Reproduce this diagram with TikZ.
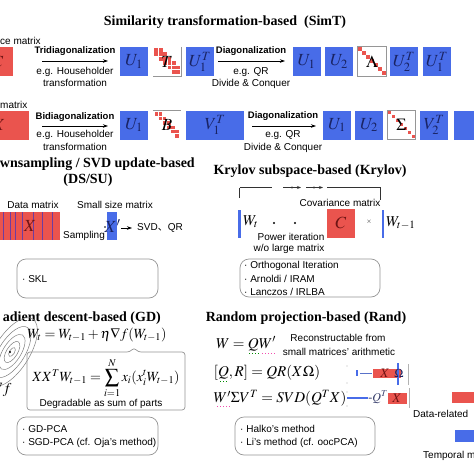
\documentclass[tikz,border=0pt]{standalone}
\usepackage{mathptmx}
\usepackage{fontspec}
\setmainfont{Liberation Serif}
\setsansfont{Liberation Sans}
\newfontfamily\cjkfont{Noto Sans CJK JP}
\usetikzlibrary{arrows.meta}
\definecolor{myred}{RGB}{234,84,78}
\definecolor{myblue}{RGB}{72,108,232}
\definecolor{navy}{RGB}{25,35,100}
\definecolor{maroon}{RGB}{110,20,20}
\definecolor{mypurple}{RGB}{110,60,160}
\definecolor{framegray}{RGB}{150,150,150}
\definecolor{brkgray}{RGB}{50,50,50}
\newcommand{\sfn}{\sffamily\fontsize{10}{12}\selectfont}
\newcommand{\sfbn}{\sffamily\bfseries\fontsize{9.5}{11}\selectfont}
\newcommand{\ttln}{\rmfamily\bfseries\fontsize{14}{16}\selectfont}
\newcommand{\mfs}{\fontsize{17}{17}\selectfont}
\newcommand{\mfm}{\fontsize{15}{15}\selectfont}
\newcommand{\mfg}{\fontsize{14}{14}\selectfont}
\begin{document}
\begin{tikzpicture}[x=1pt,y=-1pt,
  blubox/.style={fill=myblue, draw=none, minimum width=28pt, minimum height=29pt, inner sep=0pt, font=\mfs, text=navy},
  redbox/.style={fill=myred, draw=none, minimum width=28pt, minimum height=29pt, inner sep=0pt, font=\mfs, text=maroon},
  mbox/.style={draw=none, minimum width=28pt, minimum height=29pt, inner sep=0pt},
  mlbl/.style={font=\mfs, inner sep=0pt},
  sfl/.style={font=\sfn, inner sep=0pt},
  sfb/.style={font=\sfbn, inner sep=0pt},
  ttl/.style={font=\ttln, inner sep=0pt},
  eq/.style={font=\mfm, inner sep=0pt},
  rbox/.style={draw=framegray, rounded corners=9pt, line width=0.7pt},
  arr/.style={-{Stealth[length=5pt,width=3.5pt]}, line width=0.7pt},
  frm/.style={draw=framegray, line width=0.7pt},
  brkline/.style={brkgray, line width=1.3pt}
]
\useasboundingbox (0,0) rectangle (474,474);
\fill[white] (0,0) rectangle (474,474);
\clip (0,0) rectangle (474,474);

% ---------------- SimT ----------------
\node[ttl] (t1) at (225,22) {Similarity transformation-based\ \ (SimT)};

% row 1
\node[sfl, anchor=west] (cm) at (0,41) {ce matrix};
\node[redbox, minimum width=30pt] (C1) at (-2,61.5) {$C$};
\node[sfb] (tri) at (75,51) {Tridiagonalization};
\coordinate (a1s) at (42,61); \coordinate (a1e) at (108,61);
\draw[arr] (a1s) -- (a1e);
\node[sfl] (hh1) at (75,72) {e.g. Householder};
\node[sfl] (tf1) at (75,83) {transformation};
\node[blubox] (U11) at (134,61.5) {$U_1$};
\node[mbox] (T) at (167,61.5) {};
\begin{scope}[shift={(T.north west)}]
\foreach \r in {0,...,5}{\foreach \c in {0,...,5}{
  \pgfmathtruncatemacro\d{abs(\r-\c)}
  \ifnum\d<2 \fill[myred] (\c*4.4+1.5,\r*4.4+1.2) rectangle ++(3.8,3.8); \fi}}
\end{scope}
\draw[frm] (T.north east) -- (T.south east) -- (T.south west);
\node[mlbl] (Tl) at (T.center) {$T$};
\node[blubox] (U1T1) at (200,61.5) {$U_1^T$};

\node[sfb] (dg1) at (251,51) {Diagonalization};
\coordinate (a2s) at (218,61); \coordinate (a2e) at (285,61);
\draw[arr] (a2s) -- (a2e);
\node[sfl] (qr1) at (251,72) {e.g. QR};
\node[sfl] (dc1) at (251,84) {Divide \& Conquer};
\node[blubox] (U12) at (306.5,61.5) {$U_1$};
\node[blubox] (U22) at (339,61.5) {$U_2$};
\node[mbox] (L) at (372,61.5) {};
\begin{scope}[shift={(L.north west)}]
\foreach \r in {0,...,6}{
  \fill[myred] (\r*4+0.5,\r*4+0.6) rectangle ++(3.5,3.5);}
\end{scope}
\draw[frm] (L.north west) rectangle (L.south east);
\node[mlbl] (Ll) at (L.center) {$\Lambda$};
\node[blubox] (U2T2) at (404,61.5) {$U_2^T$};
\node[blubox] (U1T2) at (437,61.5) {$U_1^T$};

% row 2
\node[sfl, anchor=west] (dm) at (0,105) {matrix};
\node[redbox, minimum width=60pt] (X1) at (-1,125) {$X$};
\node[sfb] (bid) at (75,117) {Bidiagonalization};
\coordinate (b1s) at (42,126); \coordinate (b1e) at (108,126);
\draw[arr] (b1s) -- (b1e);
\node[sfl] (hh2) at (75,135) {e.g. Householder};
\node[sfl] (tf2) at (75,147) {transformation};
\node[blubox] (U13) at (134,125) {$U_1$};
\node[mbox] (B) at (167,125) {};
\begin{scope}[shift={(B.north west)}]
\foreach \r in {0,...,5}{\foreach \c in {0,...,5}{
  \pgfmathtruncatemacro\d{\c-\r}
  \ifnum\d>-1 \ifnum\d<2 \fill[myred] (\c*4.1+2,\r*4.4+2) rectangle ++(3.4,3.4); \fi\fi}}
\end{scope}
\draw[frm] (B.north west) -- (B.north east);
\node[mlbl] (Bl) at (B.center) {$B$};
\node[blubox, minimum width=58pt] (V1T) at (215,125) {$V_1^T$};

\node[sfb] (dg2) at (283,116) {Diagonalization};
\coordinate (b2s) at (252,126); \coordinate (b2e) at (316,126);
\draw[arr] (b2s) -- (b2e);
\node[sfl] (qr2) at (283,135.5) {e.g. QR};
\node[sfl] (dc2) at (283,147.5) {Divide \& Conquer};
\node[blubox] (U14) at (337,125) {$U_1$};
\node[blubox] (U24) at (369,125) {$U_2$};
\node[mbox] (S) at (401.5,125) {};
\begin{scope}[shift={(S.north west)}]
\foreach \r in {0,...,6}{
  \fill[myred] (\r*4+0.5,\r*4+0.6) rectangle ++(3.5,3.5);}
\end{scope}
\draw[frm] (S.north west) rectangle (S.south east);
\node[mlbl] (Sl) at (S.center) {$\Sigma$};
\node[blubox] (V2T) at (434,125) {$V_2^T$};
\node[blubox] (Vx) at (467.5,125) {};

% ---------------- DS/SU ----------------
\node[ttl, anchor=east] (t2a) at (195,164) {wnsampling / SVD update-based};
\node[ttl] (t2b) at (88,180) {(DS/SU)};
\node[sfl] (dmat) at (33,205) {Data matrix};
\node[fill=myred, minimum width=66pt, minimum height=28pt, inner sep=0pt] (XD) at (27,226) {};
\foreach \xx in {3,10,15,22,33,42,52}{
  \draw[mypurple, line width=1pt] (\xx,212) -- (\xx,240);}
\node[mlbl, text=maroon] (XDl) at (30,226) {$X$};
\node[sfl] (ssm) at (115,205) {Small size matrix};
\node[sfl] (smp) at (84,236) {Sampling};
\fill (105,227) circle (0.9);
\node[fill=myblue, minimum width=10pt, minimum height=28pt, inner sep=0pt] (Xs) at (112,226) {};
\node[mlbl, text=navy] (Xsl) at (112.5,226) {$X'$};
\coordinate (c1s) at (121,228); \coordinate (c1e) at (132,228);
\draw[arr, line width=0.6pt] (c1s) -- (c1e);
\node[sfl, anchor=west] (svd) at (137,228) {SVD{\cjkfont 、}QR};
\draw[rbox] (17,259) rectangle (158,298);
\node[sfl, anchor=west] (skl) at (22,279) {· SKL};

% ---------------- Krylov ----------------
\node[ttl] (t3) at (310,171) {Krylov subspace-based (Krylov)};
\node[sfl] (cov) at (340,203) {Covariance matrix};
\coordinate (wb1) at (239.5,210); \coordinate (wb2) at (239.5,238);
\draw[myblue, line width=2.6pt] (wb1) -- (wb2);
\node[eq, anchor=west] (Wt) at (243,222) {$W_t$};
\fill (274,223) circle (1.1); \fill (295,223) circle (1.1);
\node[sfl] (pit) at (291,237) {Power iteration};
\node[sfl] (wlm) at (289,249) {w/o large matrix};
\node[redbox] (Ck) at (341,223) {$C$};
\node[inner sep=0pt, font=\fontsize{7}{7}\selectfont] (tm) at (369,222) {$\times$};
\coordinate (wc1) at (383,210); \coordinate (wc2) at (383,238);
\draw[myblue, line width=2.6pt] (wc1) -- (wc2);
\node[eq, anchor=west] (Wt1) at (386,223) {$W_{t-1}$};
\draw[rbox] (240,259) rectangle (380,297);
\node[sfl, anchor=west] (k1t) at (244,266) {· Orthogonal Iteration};
\node[sfl, anchor=west] (k2t) at (244,279) {· Arnoldi / IRAM};
\node[sfl, anchor=west] (k3t) at (244,292) {· Lanczos / IRLBA};

% ---------------- GD ----------------
\node[ttl, anchor=east] (t4) at (161,318) {adient descent-based (GD)};
\foreach \a/\b in {5/2.5,12/5.5,20/9,29/13,39/17.5}{
  \draw[gray, line width=0.5pt, rotate around={58:(12,352)}] (12,352) ellipse ({\a} and {\b});}
\fill (10,352) circle (1.1);
\node[eq, anchor=west] (nf) at (-8,390) {$\nabla f$};
\node[inner sep=0pt, font=\mfg] (gdeq) at (97,335) {$W_t = W_{t-1} + \eta\nabla f(W_{t-1})$};
\draw[framegray, line width=0.7pt, rounded corners=3pt]
  (27,352) -- (130,352) -- (134,347.5) -- (138,352) -- (185,352) -- (185,410) -- (27,410) -- cycle;
\node[inner sep=0pt, font=\mfg] (sumeq) at (106,378) {$XX^T W_{t-1} = \displaystyle\sum_{i=1}^{N} x_i(x_i^t W_{t-1})$};
\node[sfl] (deg) at (101,404) {Degradable as sum of parts};
\draw[rbox] (17,417) rectangle (158,455);
\node[sfl, anchor=west] (g1) at (22,429) {· GD-PCA};
\node[sfl, anchor=west] (g2) at (22,443) {· SGD-PCA (cf. Oja's method)};

% ---------------- Rand ----------------
\node[ttl] (t5) at (306,318) {Random projection-based (Rand)};
\node[eq] (r1) at (246,344) {$W = QW'$};
\draw[green!55!black, dotted, line width=1pt] (249,353) -- (261,353);
\draw[magenta!70, dotted, line width=1pt] (262,353) -- (275,353);
\node[sfl] (rc1) at (338,338) {Reconstructable from};
\node[sfl] (rc2) at (339,352) {small matrices' arithmetic};
\node[eq] (r2) at (267,373) {$[Q,R] = QR(X\Omega)$};
\draw[green!55!black, dotted, line width=1pt] (220,381) -- (229,381);
\node[eq] (r3) at (280,398) {$W'\Sigma V^T = SVD(Q^T X)$};
\draw[magenta!70, dotted, line width=1pt] (217,406) -- (232,406);
% small diagram 1
\foreach \yy in {366,383,392,406}{\fill[gray!60] (347,\yy) circle (0.6);}
\coordinate (q1a) at (357,370); \coordinate (q1b) at (357,376);
\draw[myblue, line width=1.5pt] (q1a) -- (q1b);
\coordinate (q1c) at (360,373); \coordinate (q1d) at (372,373);
\draw[myblue!70!gray, line width=0.7pt] (q1c) -- (q1d);
\node[fill=myred, minimum width=28pt, minimum height=9pt, inner sep=0pt] (rx1) at (387,373.5) {};
\node[inner sep=0pt, font=\fontsize{13}{13}\selectfont, text=maroon] (rx1l) at (385,373.5) {$X$};
\coordinate (om1) at (398,363); \coordinate (om2) at (398,385);
\draw[myblue, line width=1.8pt] (om1) -- (om2);
\node[inner sep=0pt, font=\fontsize{12}{12}\selectfont, text=navy] (oml) at (399,373) {$\Omega$};
\coordinate (br1a) at (408,364); \coordinate (br1b) at (408,385);
\draw[gray!60, line width=0.8pt] (br1a) -- (br1b);
% small diagram 2
\coordinate (q2a) at (347,398); \coordinate (q2b) at (368,398);
\draw[myblue, line width=1.5pt] (q2a) -- (q2b);
\node[inner sep=0pt, font=\fontsize{12}{12}\selectfont, text=navy!70!gray] (qt2) at (378,397) {-$Q^T$};
\node[fill=myred, minimum width=19pt, minimum height=11pt, inner sep=0pt] (rx2) at (397,398) {};
\node[inner sep=0pt, font=\fontsize{13}{13}\selectfont, text=maroon] (rx2l) at (397,398) {$X$};
\coordinate (br2a) at (409,388); \coordinate (br2b) at (409,408);
\draw[gray!60, line width=0.8pt] (br2a) -- (br2b);
\draw[rbox] (235,417) rectangle (375,455);
\node[sfl, anchor=west] (h1) at (240,429) {· Halko's method};
\node[sfl, anchor=west] (h2) at (240,443) {· Li's method (cf. oocPCA)};

% ---------------- Legend ----------------
\node[fill=myred, minimum width=28pt, minimum height=11pt, inner sep=0pt] (lgr) at (466,397.5) {};
\node[sfl, anchor=west] (lgrt) at (413,414) {Data-related};
\node[fill=myblue, minimum width=28pt, minimum height=12pt, inner sep=0pt] (lgb) at (469,436) {};
\node[sfl, anchor=west] (lgbt) at (423,456) {Temporal m};

% ---------------- Krylov bracket (drawn last) ----------------
\coordinate (bk1) at (239.5,198);
\coordinate (bk2) at (239.5,187.5);
\coordinate (bk3) at (272,187.5);
\coordinate (bk4) at (283,187.5);
\coordinate (bk5) at (301,187.5);
\coordinate (bk6) at (306,187.5);
\coordinate (bk7) at (323,187.5);
\coordinate (bk8) at (327,187.5);
\coordinate (bk9) at (380.5,187.5);
\coordinate (bk10) at (380.5,199.5);
\draw[brkline] (bk1) -- (bk2);
\draw[brkline] (bk2) -- (bk3);
\draw[brkline, -{Stealth[length=4pt,width=3pt]}] (bk4) -- (bk5);
\draw[brkline, -{Stealth[length=4pt,width=3pt]}] (bk6) -- (bk7);
\fill[brkgray] (292,187.5) circle (1.1); \fill[brkgray] (314,187.5) circle (1.1);
\draw[brkline] (bk8) -- (bk9);
\draw[brkline] (bk9) -- (bk10);
\end{tikzpicture}
\end{document}
